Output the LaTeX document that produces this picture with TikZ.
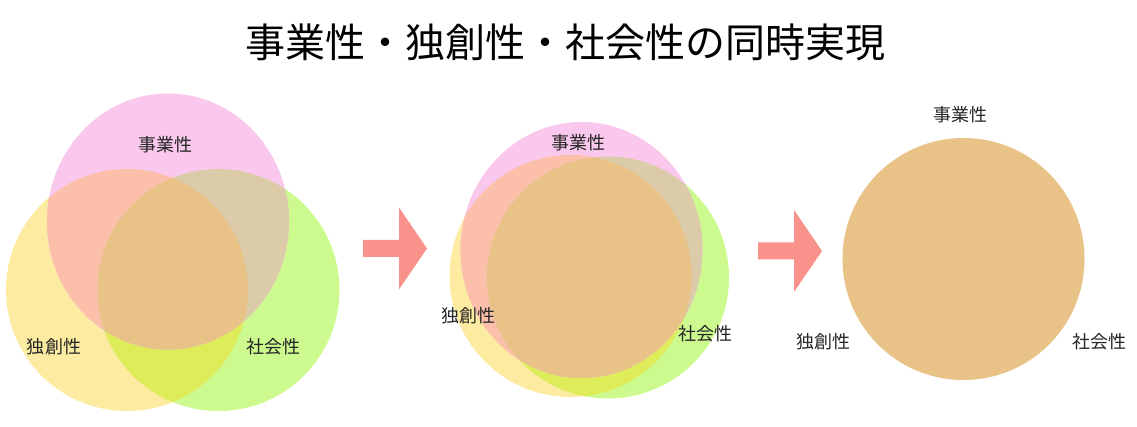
\documentclass[tikz,border=0pt]{standalone}
\usepackage{fontspec}
\usepackage{xcolor}
\newfontfamily\cjk{Noto Sans CJK JP}
\definecolor{vennpink}{HTML}{F9C8EC}
\definecolor{vennyellow}{HTML}{FCEBA0}
\definecolor{venngreen}{HTML}{CCFA8E}
\definecolor{vennsalmon}{HTML}{FCBFAA}
\definecolor{venntan}{HTML}{DCCBA8}
\definecolor{vennlime}{HTML}{DEEC5A}
\definecolor{venncore}{HTML}{E8C286}
\definecolor{figarrowcol}{HTML}{F9928A}
\begin{document}
\begin{tikzpicture}[x=1pt,y=-1pt,
    setlabel/.style={font=\cjk\fontsize{18}{21}\selectfont,text=black!85,inner sep=0pt},
    titlelabel/.style={font=\cjk\fontsize{40}{48}\selectfont,text=black,inner sep=0pt}]
        \newcommand{\figvennrad}{121pt}
        \newcommand{\figvennradp}{128pt}
        \newcommand{\figvenntrio}[3]{%
            \fill[vennyellow] (#2) circle (\figvennrad);
            \fill[venngreen] (#3) circle (\figvennrad);
            \begin{scope}
                \clip (#2) circle (\figvennrad);
                \fill[vennlime] (#3) circle (\figvennrad);
            \end{scope}
            \fill[vennpink] (#1) ellipse [x radius=\figvennrad, y radius=\figvennradp];
            \begin{scope}
                \clip (#1) ellipse [x radius=\figvennrad, y radius=\figvennradp];
                \fill[vennsalmon] (#2) circle (\figvennrad);
                \fill[venntan] (#3) circle (\figvennrad);
                \clip (#2) circle (\figvennrad);
                \fill[venncore] (#3) circle (\figvennrad);
            \end{scope}}
        \newcommand{\figarrow}[1]{%
            \fill[figarrowcol,shift={(#1)}] (0,-8.5) -- (36,-8.5) -- (36,-41) -- (64,0) -- (36,41) -- (36,8.5) -- (0,8.5) -- cycle;}
        \useasboundingbox (0,0) rectangle (1137,427);
        % title
        \node[titlelabel] (title) at (565,42) {事業性・独創性・社会性の同時実現};
        % before
        \coordinate (pinkA) at (168,221.5);
        \coordinate (yellowA) at (127,290);
        \coordinate (greenA) at (218.5,290);
        \figvenntrio{pinkA}{yellowA}{greenA}
        \node[setlabel] (bizA) at (165,145) {事業性};
        \node[setlabel] (origA) at (54,347) {独創性};
        \node[setlabel] (socA) at (273,347) {社会性};
        \coordinate (arrowA) at (363,248.5);
        \figarrow{arrowA}
        % closer
        \coordinate (pinkB) at (581.5,250);
        \coordinate (yellowB) at (570.5,276);
        \coordinate (greenB) at (608,277.5);
        \figvenntrio{pinkB}{yellowB}{greenB}
        \node[setlabel] (bizB) at (578,143) {事業性};
        \node[setlabel] (origB) at (468,316) {独創性};
        \node[setlabel] (socB) at (705,334) {社会性};
        \coordinate (arrowB) at (758,251);
        \figarrow{arrowB}
        % one
        \coordinate (coreC) at (963.5,259);
        \fill[venncore] (coreC) circle (\figvennrad);
        \node[setlabel] (bizC) at (960,115) {事業性};
        \node[setlabel] (origC) at (823,342) {独創性};
        \node[setlabel] (socC) at (1099,342) {社会性};
    \end{tikzpicture}
\end{document}
